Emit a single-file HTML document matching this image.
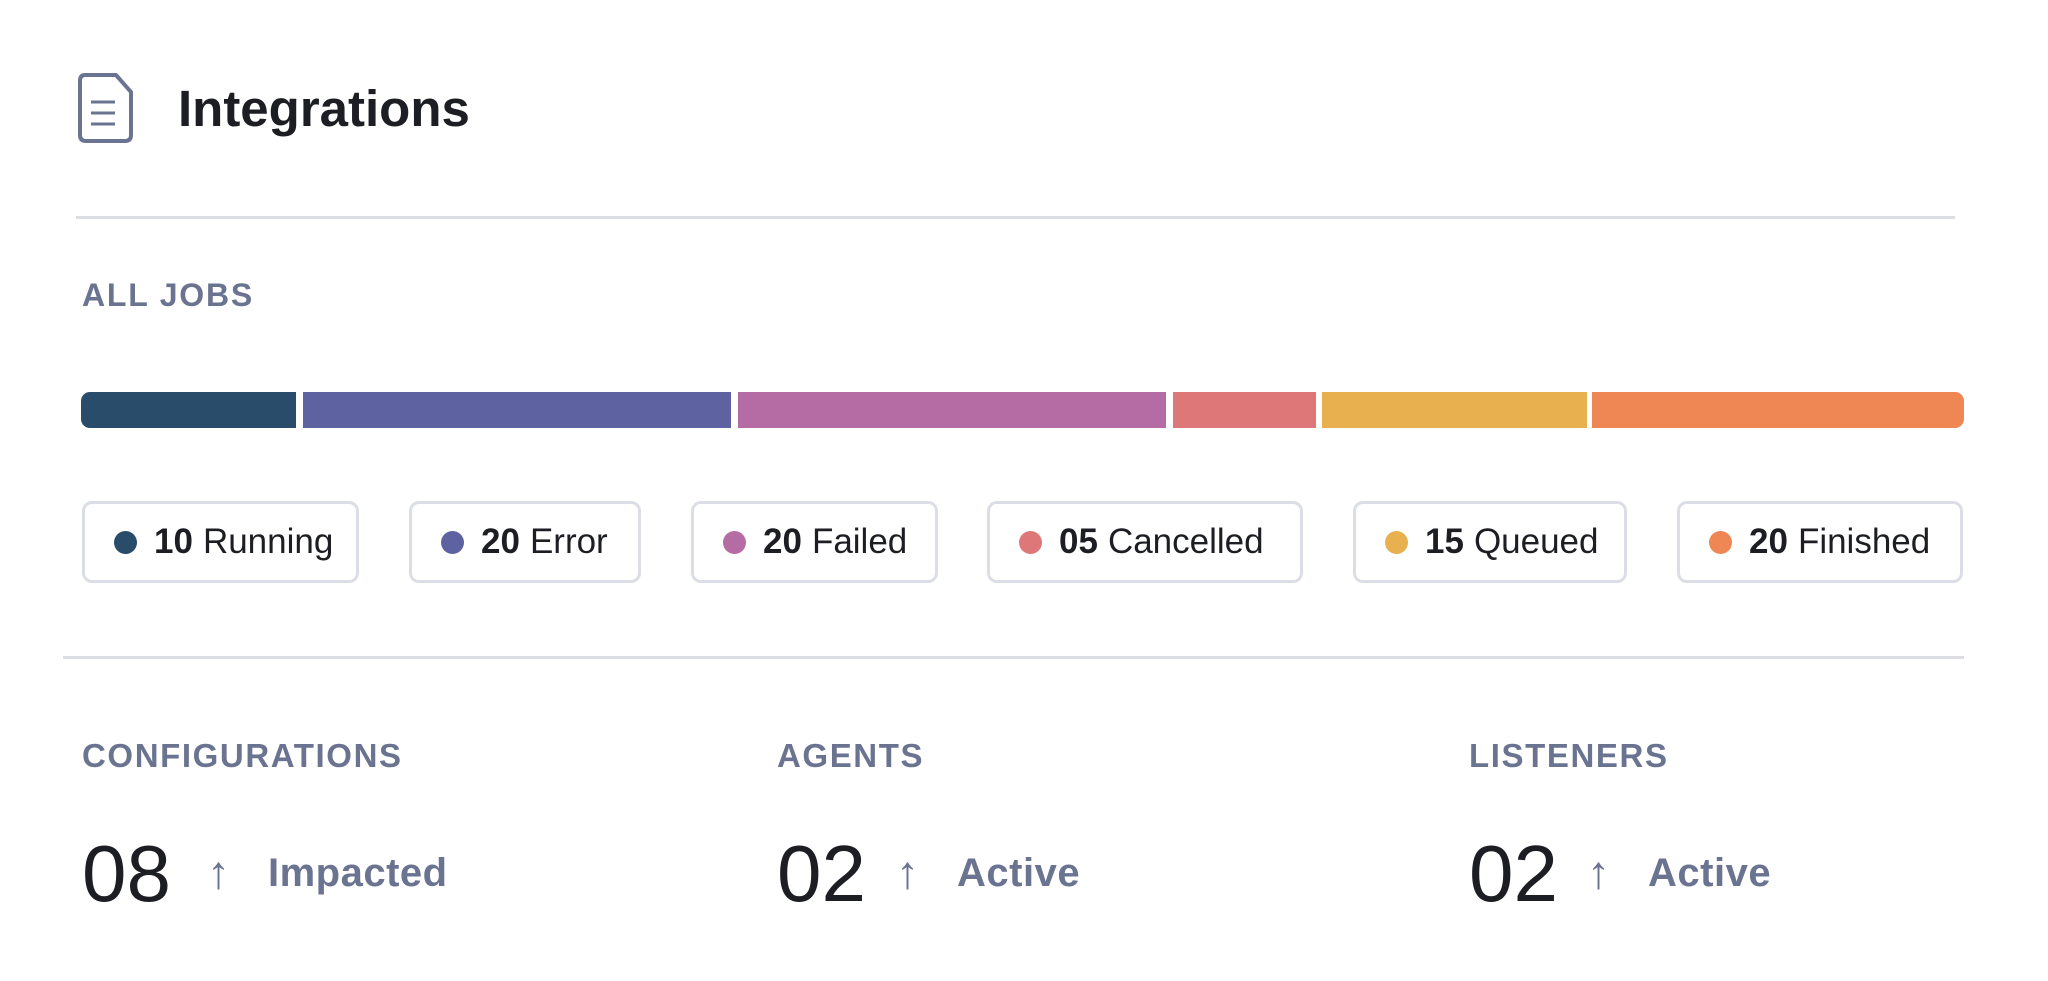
<!DOCTYPE html>
<html><head><meta charset="utf-8"><style>
*{margin:0;padding:0;box-sizing:border-box}
body{width:2048px;height:981px;background:#fff;position:relative;overflow:hidden;font-family:"Liberation Sans",sans-serif;color:#1d1e24}
.a{position:absolute;white-space:nowrap}
.line{position:absolute;height:3px;background:#dcdee4}
.seg{position:absolute;top:392px;height:36px}
.chip{position:absolute;top:501px;height:82px;border:3px solid #dcdee6;border-radius:10px;display:flex;align-items:center;padding-left:29px;font-size:35px}
.dot{width:23px;height:23px;border-radius:50%;margin-right:17px;flex:none}
.chip b{margin-right:10px}
.lab{position:absolute;top:737px;font-size:33px;font-weight:bold;color:#6a7390;letter-spacing:1.6px}
.num{position:absolute;top:834px;font-size:80px;color:#1d1e24;line-height:80px}
.arr{position:absolute;top:845px;font-size:46px;color:#6a7390}
.st{position:absolute;top:851px;font-size:40px;font-weight:bold;color:#6a7390;letter-spacing:0.5px}
</style></head><body>
<svg class="a" style="left:76px;top:72px" width="60" height="72" viewBox="0 0 60 72">
<path d="M9 3 H40 L55 20 V63 Q55 69 49 69 H10 Q4 69 4 63 V9 Q4 3 9 3 Z" fill="none" stroke="#6a7390" stroke-width="4" stroke-linejoin="round"/>
<line x1="15" y1="30" x2="39" y2="30" stroke="#6a7390" stroke-width="3"/>
<line x1="15" y1="41" x2="39" y2="41" stroke="#6a7390" stroke-width="3"/>
<line x1="15" y1="52" x2="39" y2="52" stroke="#6a7390" stroke-width="3"/>
</svg>
<div class="a" style="left:178px;top:78px;font-size:51px;font-weight:bold;line-height:62px">Integrations</div>
<div class="line" style="left:76px;top:216px;width:1879px"></div>
<div class="a" style="left:82px;top:277px;font-size:32px;font-weight:bold;color:#6a7390;letter-spacing:1.8px">ALL JOBS</div>
<div class="seg" style="left:81px;width:215px;background:#284c69;border-radius:9px 0 0 9px"></div>
<div class="seg" style="left:303px;width:428px;background:#5e62a0"></div>
<div class="seg" style="left:738px;width:428px;background:#b56ba4"></div>
<div class="seg" style="left:1173px;width:143px;background:#de7777"></div>
<div class="seg" style="left:1322px;width:265px;background:#e8b04f"></div>
<div class="seg" style="left:1592px;width:372px;background:#ef8754;border-radius:0 9px 9px 0"></div>
<div class="chip" style="left:82px;width:277px"><span class="dot" style="background:#284c69"></span><b>10</b>Running</div>
<div class="chip" style="left:409px;width:232px"><span class="dot" style="background:#5e62a0"></span><b>20</b>Error</div>
<div class="chip" style="left:691px;width:247px"><span class="dot" style="background:#b56ba4"></span><b>20</b>Failed</div>
<div class="chip" style="left:987px;width:316px"><span class="dot" style="background:#de7777"></span><b>05</b>Cancelled</div>
<div class="chip" style="left:1353px;width:274px"><span class="dot" style="background:#e8b04f"></span><b>15</b>Queued</div>
<div class="chip" style="left:1677px;width:286px"><span class="dot" style="background:#ef8754"></span><b>20</b>Finished</div>
<div class="line" style="left:63px;top:656px;width:1901px"></div>
<div class="lab" style="left:82px">CONFIGURATIONS</div>
<div class="lab" style="left:777px">AGENTS</div>
<div class="lab" style="left:1469px">LISTENERS</div>
<div class="num" style="left:82px">08</div><div class="arr" style="left:207px">↑</div><div class="st" style="left:268px">Impacted</div>
<div class="num" style="left:777px">02</div><div class="arr" style="left:896px">↑</div><div class="st" style="left:957px">Active</div>
<div class="num" style="left:1469px">02</div><div class="arr" style="left:1587px">↑</div><div class="st" style="left:1648px">Active</div>
</body></html>
